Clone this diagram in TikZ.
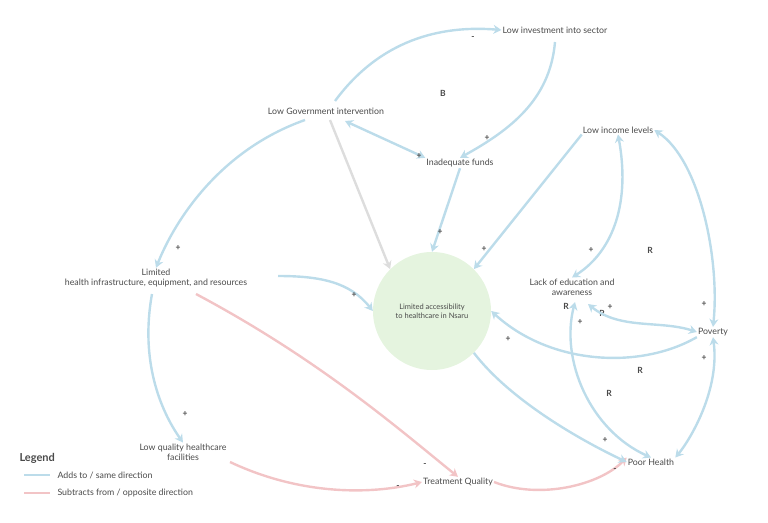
\documentclass[tikz,border=0pt]{standalone}
\usepackage{fontspec}
\setmainfont{Lato}
\usetikzlibrary{arrows.meta}
\definecolor{bl}{HTML}{BCDCEA}
\definecolor{pk}{HTML}{F2C4C6}
\definecolor{gr}{HTML}{DDDDDD}
\definecolor{gn}{HTML}{E5F4DF}
\definecolor{tx}{HTML}{4A4A4A}
\begin{document}
\begin{tikzpicture}[x=1pt,y=-1pt,font=\fontsize{8.8}{10}\selectfont,text=tx,
 lab/.style={align=center,inner sep=1pt},
 pl/.style={font=\fontsize{8.5}{9}\selectfont\bfseries,inner sep=0pt},
 posar/.style={draw=bl,line width=2.4pt,-{Stealth[length=8pt,width=9pt]}},
 bothar/.style={posar,{Stealth[length=8pt,width=9pt]}-{Stealth[length=8pt,width=9pt]}},
 negar/.style={draw=pk,line width=2.4pt,-{Stealth[length=8pt,width=9pt]}}]
\useasboundingbox (0,0) rectangle (768,522);
\node[circle,fill=gn,minimum size=118pt,inner sep=0,align=center,font=\fontsize{7.5}{9}\selectfont] (c) at (432,311) {Limited accessibility\\to healthcare in Nsaru};
\node[lab] (li) at (555,30) {Low investment into sector};
\node[lab] (gov) at (326,111) {Low Government intervention};
\node[lab] (inc) at (618,130) {Low income levels};
\node[lab] (fund) at (460,163) {Inadequate funds};
\node[lab] (infra) at (156,278) {Limited\\health infrastructure, equipment, and resources};
\node[lab] (edu) at (572,287) {Lack of education and\\awareness};
\node[lab] (pov) at (713,332) {Poverty};
\node[lab] (lq) at (183,452) {Low quality healthcare\\facilities};
\node[lab] (tq) at (458,482) {Treatment Quality};
\node[lab] (ph) at (651,462) {Poor Health};
\foreach \t/\x/\y in {B/443/93,R/650/250,R/566/306,R/602/313,R/640/370,R/609/393}
 \node[pl] at (\x,\y) {\t};
\draw[posar] (335,101) .. controls (380,40) and (440,25) .. (li.west);
\draw[posar] (555,42) .. controls (550,100) and (510,130) .. (fund.north);
\draw[bothar] (345,121) -- (fund.north west);
\draw[posar] (305,120) .. controls (220,150) and (175,220) .. (infra.north);
\draw[draw=gr,line width=2.4pt,-{Stealth[length=8pt,width=9pt]}] (330,120) -- (c.north west);
\draw[posar] (fund.south) -- (c.north);
\draw[posar] (inc.south west) -- (c.north east);
\draw[bothar] (inc.south) .. controls (630,200) and (615,250) .. (edu.north);
\draw[bothar] (inc.east) .. controls (700,160) and (720,260) .. (pov.north);
\draw[posar] (278,276) .. controls (320,276) and (350,282) .. (c.west);
\draw[posar] (152,294) .. controls (140,360) and (160,410) .. (lq.north);
\draw[negar] (196,294) .. controls (320,360) and (400,430) .. (tq.north);
\draw[negar] (230,462) .. controls (300,495) and (370,495) .. (tq.west);
\draw[negar] (tq.east) .. controls (540,500) and (600,485) .. (ph.north west);
\draw[posar] (c.south east) .. controls (510,400) and (580,440) .. (ph.west);
\draw[posar] (pov.south west) .. controls (640,370) and (550,365) .. (c.east);
\draw[bothar] (588,304) .. controls (620,330) and (660,320) .. (pov.west);
\draw[bothar] (pov.south) .. controls (720,390) and (690,440) .. (ph.north east);
\draw[bothar] (575,302) .. controls (560,360) and (590,430) .. (ph.north);
\foreach \t/\x/\y in {-/473/38,+/487/138,+/419/156,+/178/248,+/440/232,+/484/249,+/591/250,+/704/304,+/354/295,+/185/414,-/425/465,-/398/487,-/615/470,+/605/440,+/508/339,+/610/307,+/704/358,+/580/322}
 \node[pl] at (\x,\y) {\t};
\node[font=\fontsize{11}{12}\selectfont\bfseries,anchor=west] (lg) at (16,458) {Legend};
\draw[draw=bl,line width=1.2pt] (24,475) -- (50,475);
\node[anchor=west] (l1) at (54,475) {Adds to / same direction};
\draw[draw=pk,line width=1.2pt] (24,493) -- (50,493);
\node[anchor=west] (l2) at (54,493) {Subtracts from / opposite direction};
\end{tikzpicture}
\end{document}
